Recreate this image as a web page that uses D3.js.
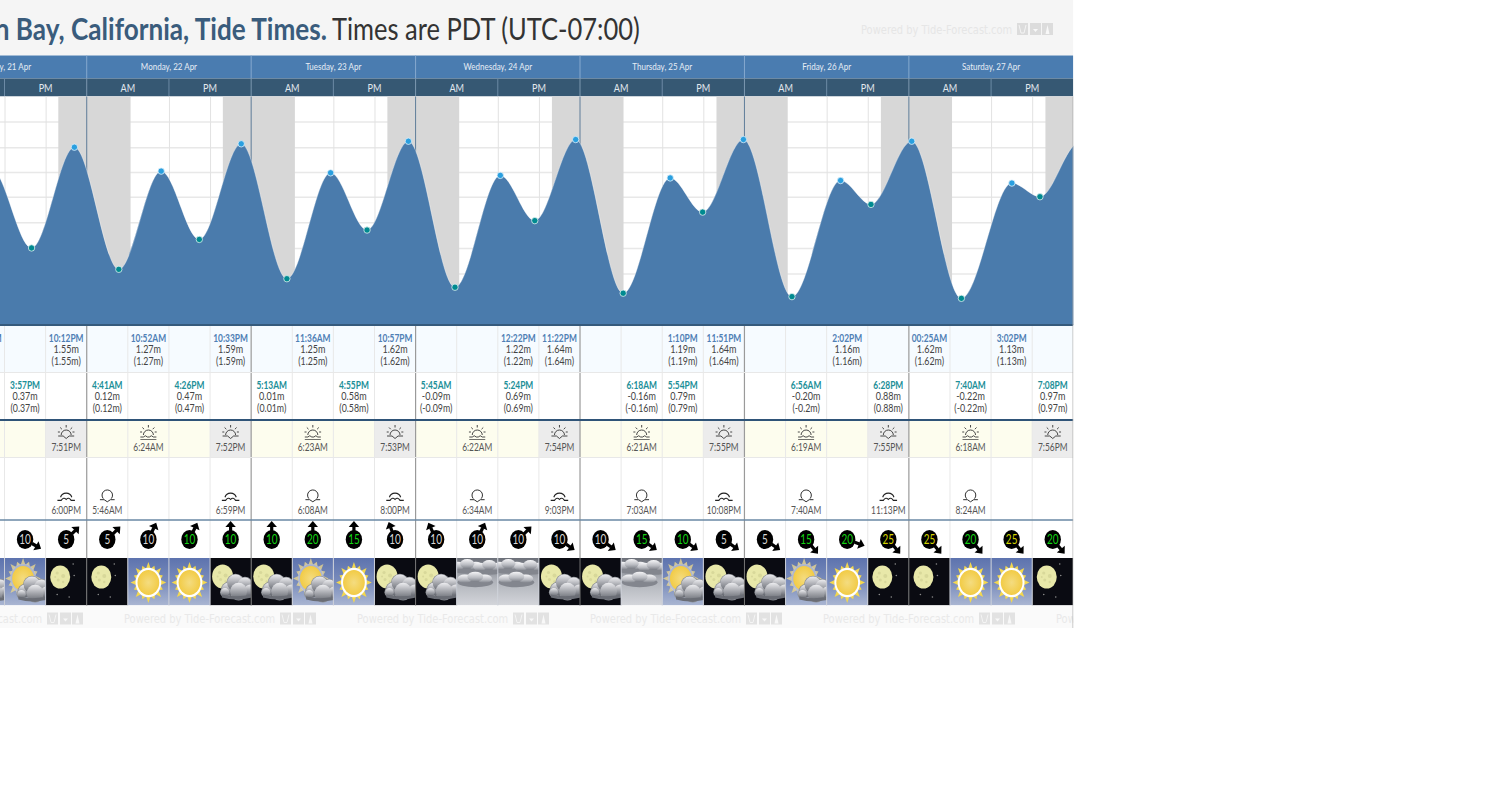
<!DOCTYPE html>
<html>
<head>
<meta charset="utf-8">
<title>Half Moon Bay, California, Tide Times</title>
<script src="https://cdn.jsdelivr.net/npm/d3@7/dist/d3.min.js"></script>
<style>
html,body{margin:0;padding:0;background:#fff;overflow:hidden}
svg{display:block}
text{font-family:Lato,"Open Sans",sans-serif}
</style>
</head>
<body>
<svg id="chart" width="1499" height="786"></svg>
<script>
// ---- Data (April 2024, local time) ----
const dayNames = ["Sunday, 21 Apr","Monday, 22 Apr","Tuesday, 23 Apr","Wednesday, 24 Apr","Thursday, 25 Apr","Friday, 26 Apr","Saturday, 27 Apr"];

const highDays    = [21,21,22,22,23,23,24,24,25,25,26,27,27,28];
const highTimes   = ["10:04AM","10:12PM","10:52AM","10:33PM","11:36AM","10:57PM","12:22PM","11:22PM","1:10PM","11:51PM","2:02PM","00:25AM","3:02PM","00:50AM"];
const highHeights = [1.30,1.55,1.27,1.59,1.25,1.62,1.22,1.64,1.19,1.64,1.16,1.62,1.13,1.60];

const lowDays    = [21,21,22,22,23,23,24,24,25,25,26,26,27,27,28];
const lowTimes   = ["4:05AM","3:57PM","4:41AM","4:26PM","5:13AM","4:55PM","5:45AM","5:24PM","6:18AM","5:54PM","6:56AM","6:28PM","7:40AM","7:08PM","8:20AM"];
const lowHeights = [0.22,0.37,0.12,0.47,0.01,0.58,-0.09,0.69,-0.16,0.79,-0.20,0.88,-0.22,0.97,-0.20];

const sunDays  = [21,21,22,22,23,23,24,24,25,25,26,26,27,27];
const sunTimes = ["6:25AM","7:51PM","6:24AM","7:52PM","6:23AM","7:53PM","6:22AM","7:54PM","6:21AM","7:55PM","6:19AM","7:55PM","6:18AM","7:56PM"];

const moonDays  = [21,22,22,23,23,24,24,25,25,26,26,27];
const moonTimes = ["6:00PM","5:46AM","6:59PM","6:08AM","8:00PM","6:34AM","9:03PM","7:03AM","10:08PM","7:40AM","11:13PM","8:24AM"];

// one entry per six-hour column, starting at noon on the 21st
const windSpeeds  = [10,5, 5,10,10,10, 10,20,15,10, 10,10,10,10, 10,15,10,5, 5,15,20,25, 25,20,25,20];
const windHeading = [120,45, 45,25,25,0, 0,0,0,-20, -25,25,45,125, 125,125,125,125, 125,140,110,140, 140,140,140,140];
const windTone    = ["w","w", "w","w","g","g", "g","g","g","w", "w","w","w","w", "w","g","g","w", "w","g","g","y", "y","g","y","g"];

// one entry per six-hour column, starting at 06:00 on the 21st
const skies = ["partlyDay","partlyDay","clearNight",
  "clearNight","clearDay","clearDay","partlyNight",
  "partlyNight","partlyDay","clearDay","partlyNight",
  "partlyNight","overcast","overcast","partlyNight",
  "partlyNight","overcast","partlyDay","partlyNight",
  "partlyNight","partlyDay","clearDay","clearNight",
  "clearNight","clearDay","clearDay","clearNight"];

const gridLevels = [1.85,1.55,1.26,0.97,0.67,0.37,0.07];

const titleHead = "Half Moon Bay, California, Tide Times.";
const titleTail = "Times are PDT (UTC-07:00)";
const creditText = "Powered by Tide-Forecast.com";

// ---- Layout ----
const C = {blue:"#4a7bac", dark:"#365873", headBlue:"#4a7cb0", high:"#4f80b5", low:"#1c8f98", ink:"#444", soft:"#555"};
const R = {head:55.5, day:78.5, half:96.5, plot:325, high:372.5, low:420, sun:457.5, moon:520, wind:558, sky:605.5, foot:628};
const left = -77.7, right = 1073.3;
const SQUEEZE = 0.8; // all lettering is set narrow

const parseStamp = d3.utcParse("%d %I:%M%p");
const stamp = (day, t) => {
  const clean = t.replace(/^00:/, "12:");
  const p = parseStamp(day + " " + clean);
  return new Date(Date.UTC(2024, 3, p.getUTCDate(), p.getUTCHours(), p.getUTCMinutes()));
};
const startDate = new Date(Date.UTC(2024,3,21)), endDate = new Date(Date.UTC(2024,3,28));

const x = d3.scaleUtc().domain([startDate,endDate]).range([left,right]);
const y = d3.scaleLinear().domain([-0.532,2.144]).range([R.plot,R.half]);
const colW = (right-left)/28;
const colIndex = d => Math.floor((d-startDate)/216e5);
const colMid = d => left + (colIndex(d)+0.5)*colW;
const visibleCell = d => colIndex(d)>=1 && colMid(d)<right;

const highs = highTimes.map((t,i)=>({date:stamp(highDays[i],t),label:t,h:highHeights[i]}));
const lows  = lowTimes.map((t,i)=>({date:stamp(lowDays[i],t),label:t,h:lowHeights[i]}));
const tide  = highs.concat(lows).sort((a,b)=>a.date-b.date);
const suns  = sunTimes.map((t,i)=>({date:stamp(sunDays[i],t),label:t}));
const moons = moonTimes.map((t,i)=>({date:stamp(moonDays[i],t),label:t}));

const svg = d3.select("#chart");
const defs = svg.append("defs");
defs.append("clipPath").attr("id","frame").append("rect").attr("x",0).attr("y",0).attr("width",right).attr("height",R.foot);

function vGrad(id, stops){
  const g = defs.append("linearGradient").attr("id",id).attr("x1",0).attr("y1",0).attr("x2",0).attr("y2",1);
  stops.forEach(s=>g.append("stop").attr("offset",s[0]).attr("stop-color",s[1]));
}
vGrad("skyDay",[[0,"#5d73ae"],[0.55,"#7d8fbd"],[1,"#aab6d2"]]);
vGrad("skyGrey",[[0,"#6c7079"],[0.45,"#adb0b7"],[1,"#d4d6db"]]);
vGrad("cloudFill",[[0,"#ececef"],[0.5,"#a4a6ac"],[1,"#63666e"]]);
vGrad("cloudPale",[[0,"#f6f6f8"],[0.6,"#b9bbc1"],[1,"#7d8088"]]);
const rg = defs.append("radialGradient").attr("id","sunDisc");
rg.append("stop").attr("offset",0).attr("stop-color","#f4dc80");
rg.append("stop").attr("offset",1).attr("stop-color","#f2cb45");

const root = svg.append("g").attr("clip-path","url(#frame)");

// narrow-set label placed at a point
function label(parent, px, py, str, opts){
  const o = Object.assign({size:10.5, fill:C.ink, anchor:"middle", weight:400, sx:SQUEEZE}, opts);
  return parent.append("text").attr("transform",`translate(${px},${py}) scale(${o.sx},1)`)
    .attr("text-anchor",o.anchor).attr("font-size",o.size).attr("font-weight",o.weight).attr("fill",o.fill).text(str);
}

// ---- Title band ----
root.append("rect").attr("width",right).attr("height",R.head).attr("fill","#f5f5f5");
label(root,327,40,titleHead,{size:30.5,weight:700,fill:"#3a5c7c",anchor:"end",sx:0.857});
label(root,332,40,titleTail,{size:30.5,fill:"#333",anchor:"start",sx:0.836});

// credit strip: small greyed mark after the text
function credit(g, x0, yc, textFill, boxFill){
  label(g,x0,yc+4.5,creditText,{size:12,fill:textFill,anchor:"start",sx:0.826}).style("font-family","'DejaVu Sans',sans-serif");
  [156,169,181].forEach((dx,i)=>{
    g.append("rect").attr("x",x0+dx).attr("y",yc-6).attr("width",11).attr("height",12).attr("fill",boxFill);
    g.append("path").attr("d", i===0 ? `M${x0+dx+2} ${yc-4}l2 8h3l2-8` : i===1 ? `M${x0+dx+3} ${yc}h5l-2.5 3z` : `M${x0+dx+3.5} ${yc+5}l2-9l2 9z`)
      .attr("fill", i===0 ? "none":"#f8f8f8").attr("stroke", i===0 ? "#f4f4f4":"none");
  });
}
credit(root.append("g"),861,29,"#e6e6e6","#dcdcdc");

// ---- Day and AM/PM header rows ----
const days = d3.utcDay.range(startDate,endDate);
root.append("rect").attr("y",R.head).attr("width",right).attr("height",R.day-R.head).attr("fill",C.headBlue);
root.append("rect").attr("y",R.day).attr("width",right).attr("height",R.half-R.day).attr("fill",C.dark);
days.forEach((d,i)=>{
  const x0 = x(d), x1 = x(d3.utcDay.offset(d,1)), xm = x(d3.utcHour.offset(d,12));
  label(root,(x0+x1)/2,70,dayNames[i],{size:10,fill:"#e6edf5"});
  label(root,(x0+xm)/2,91.5,"AM",{size:12,fill:"#e3e9ef",sx:0.76});
  label(root,(xm+x1)/2,91.5,"PM",{size:12,fill:"#e3e9ef",sx:0.76});
  root.append("line").attr("x1",x0).attr("x2",x0).attr("y1",R.head).attr("y2",R.day).attr("stroke","#86a9cf");
  root.append("line").attr("x1",x0).attr("x2",x0).attr("y1",R.day).attr("y2",R.half).attr("stroke","#7d98b0");
  root.append("line").attr("x1",xm).attr("x2",xm).attr("y1",R.day).attr("y2",R.half).attr("stroke","#6c8aa5");
});

// ---- Tide plot ----
const plot = root.append("g");
plot.append("rect").attr("y",R.half).attr("width",right).attr("height",R.plot-R.half).attr("fill","#fff");

const hGrid = d3.axisLeft(y).tickValues(gridLevels).tickSize(-right).tickFormat("");
const gh = plot.append("g").call(hGrid);
gh.select(".domain").remove();
gh.selectAll("line").attr("stroke","#e8e8e8").attr("stroke-width",1.5);

const vGridAxis = d3.axisBottom(x).ticks(d3.utcHour.every(6)).tickSize(R.half-R.plot).tickFormat("");
const gv = plot.append("g").attr("transform",`translate(0,${R.plot})`).call(vGridAxis);
gv.select(".domain").remove();
gv.selectAll("line").attr("stroke","#e2e2e2").attr("stroke-width",1);

// darkness between each sunset and the following sunrise
const nightEnds = suns.slice(0).concat([{date:endDate}]);
for(let i=1;i<suns.length;i+=2){
  plot.append("rect").attr("x",x(suns[i].date)).attr("y",R.half)
    .attr("width",x(nightEnds[i+1].date)-x(suns[i].date)).attr("height",R.plot-R.half)
    .attr("fill","#d7d7d7");
}
days.forEach(d=>{
  plot.append("line").attr("x1",x(d)).attr("x2",x(d)).attr("y1",R.half).attr("y2",R.plot).attr("stroke","#5f7d99");
});

const area = d3.area().x(d=>x(d.date)).y0(R.plot).y1(d=>y(d.h)).curve(d3.curveMonotoneX);
const crest = d3.line().x(d=>x(d.date)).y(d=>y(d.h)).curve(d3.curveMonotoneX);
plot.append("path").datum(tide).attr("d",area).attr("fill",C.blue);
plot.append("path").datum(tide).attr("d",crest).attr("fill","none").attr("stroke","#fff").attr("stroke-opacity",0.35).attr("stroke-width",1);

plot.selectAll("circle.hi").data(highs).join("circle").attr("class","hi")
  .attr("cx",d=>x(d.date)).attr("cy",d=>y(d.h)).attr("r",3.2).attr("fill","#2a9fdf").attr("stroke","#dff0fa").attr("stroke-width",0.8);
plot.selectAll("circle.lo").data(lows).join("circle").attr("class","lo")
  .attr("cx",d=>x(d.date)).attr("cy",d=>y(d.h)).attr("r",3.2).attr("fill","#008a90").attr("stroke","#dff0f0").attr("stroke-width",0.8);

// ---- Table rows ----
const table = root.append("g");
table.append("rect").attr("y",R.plot).attr("width",right).attr("height",R.high-R.plot).attr("fill","#f6fbff");
table.append("rect").attr("y",R.high).attr("width",right).attr("height",R.low-R.high).attr("fill","#fff");
table.append("rect").attr("y",R.low).attr("width",right).attr("height",R.sun-R.low).attr("fill","#fdfdee");
table.append("rect").attr("y",R.sun).attr("width",right).attr("height",R.moon-R.sun).attr("fill","#fff");
table.append("rect").attr("y",R.moon).attr("width",right).attr("height",R.wind-R.moon).attr("fill","#fff");

// sunset cells are shaded
suns.filter((d,i)=>i%2).forEach(d=>{
  const c = colIndex(d.date);
  table.append("rect").attr("x",left+c*colW).attr("y",R.low).attr("width",colW).attr("height",R.sun-R.low).attr("fill","#ececec");
});

// ---- Wind ----
const toneFill = {w:"#d8d8d8", g:"#13d313", y:"#d4d400"};
const windG = table.append("g");
windSpeeds.forEach((s,i)=>{
  const cx = left + (i+2+0.5)*colW, cy = 539.5;
  const g = windG.append("g").attr("transform",`translate(${cx},${cy})`);
  g.append("g").attr("transform",`rotate(${windHeading[i]})`)
    .call(a=>a.append("path").attr("d","M0 -8L0 -13").attr("stroke","#000").attr("stroke-width",3.2))
    .call(a=>a.append("path").attr("d","M-5.2 -12.5L5.2 -12.5L0 -18.5Z").attr("fill","#000"));
  g.append("ellipse").attr("rx",8.2).attr("ry",9.6).attr("fill","#000");
  label(g,0,4.4,s,{size:12.5,fill:toneFill[windTone[i]]});
});

// ---- Sky icons ----
function cloud(g, cx, cy, s){
  const blobs = [[-9,3,6],[-2,-3,8],[7,-1,7],[12,4,5.5],[1,5,8],[-12,6,4]];
  const c = g.append("g").attr("transform",`translate(${cx},${cy}) scale(${s})`);
  blobs.forEach(b=>c.append("circle").attr("cx",b[0]).attr("cy",b[1]).attr("r",b[2]+0.7).attr("fill","#8d9096"));
  blobs.forEach(b=>c.append("circle").attr("cx",b[0]).attr("cy",b[1]).attr("r",b[2]).attr("fill","url(#cloudFill)"));
  c.append("path").attr("d","M-15 11Q0 15 17 10L17 7Q0 12 -15 8Z").attr("fill","#6a6d75");
}
function flatCloud(g, cx, cy, sx, sy){
  const c = g.append("g").attr("transform",`translate(${cx},${cy}) scale(${sx},${sy})`);
  c.append("ellipse").attr("cx",0).attr("cy",5).attr("rx",17).attr("ry",6).attr("fill","#83868e");
  c.append("ellipse").attr("cx",-10).attr("cy",1).attr("rx",7).attr("ry",5).attr("fill","url(#cloudPale)");
  c.append("ellipse").attr("cx",9).attr("cy",1).attr("rx",7).attr("ry",5).attr("fill","url(#cloudPale)");
  c.append("ellipse").attr("cx",0).attr("cy",-1.5).attr("rx",7.5).attr("ry",6).attr("fill","url(#cloudPale)");
}
function moonDisc(g, cx, cy, rx, ry){
  g.append("ellipse").attr("cx",cx).attr("cy",cy).attr("rx",rx).attr("ry",ry).attr("fill","#e8e8a9");
  [[-3,-4,1.6],[3,-1,2],[-2,3,1.5],[3,5,1.2],[-5,0,1]].forEach(c=>
    g.append("circle").attr("cx",cx+c[0]).attr("cy",cy+c[1]).attr("r",c[2]).attr("fill","#d8d89a"));
}
function sunBurst(g, cx, cy, r, bright){
  const s = g.append("g").attr("transform",`translate(${cx},${cy}) scale(0.87,1)`);
  d3.range(16).forEach(i=>{
    const a = i/16*2*Math.PI, reach = i%2 ? r+5.5 : r+8;
    const at = (da,rad)=>[Math.sin(a+da)*rad,-Math.cos(a+da)*rad];
    s.append("path").attr("d",`M${at(-0.17,r+2)}L${at(0,reach)}L${at(0.17,r+2)}Z`)
      .attr("fill",bright?"#f4d84e":"#e8d68f").attr("opacity",bright?1:0.8);
  });
  s.append("circle").attr("r",r+2.3).attr("fill",bright?"#fff":"#d8dae0").attr("opacity",bright?1:0.6);
  s.append("circle").attr("r",r).attr("fill","url(#sunDisc)");
}
const skyG = table.append("g");
skies.forEach((kind,i)=>{
  const x0 = left + (i+1)*colW, cx = x0 + colW/2;
  const cid = "skyCell"+i;
  defs.append("clipPath").attr("id",cid).append("rect").attr("x",x0).attr("y",R.wind).attr("width",colW).attr("height",R.sky-R.wind);
  const g = skyG.append("g").attr("clip-path",`url(#${cid})`);
  const night = kind==="clearNight" || kind==="partlyNight";
  g.append("rect").attr("x",x0).attr("y",R.wind).attr("width",colW).attr("height",R.sky-R.wind)
    .attr("fill", night ? "#0a0b12" : kind==="overcast" ? "url(#skyGrey)" : "url(#skyDay)");
  if(kind==="clearNight"){
    moonDisc(g,cx-6,577,10,11.5);
    [[7,-13],[8,-1.5],[-9,17.5],[3,20]].forEach(s=>g.append("circle").attr("cx",cx+s[0]).attr("cy",577+s[1]).attr("r",0.8).attr("fill","#8a8a8a"));
  } else if(kind==="clearDay"){
    sunBurst(g,cx,582.5,12.5,true);
  } else if(kind==="partlyDay"){
    sunBurst(g,cx-2,578.5,12.5,false);
    cloud(g,cx+9,588,1.05);
  } else if(kind==="partlyNight"){
    moonDisc(g,cx-8,576.5,10.5,12);
    cloud(g,cx+7,586,1.05);
  } else {
    flatCloud(g,cx-10,565,0.95,0.8);
    flatCloud(g,cx+12,566,0.95,0.8);
    flatCloud(g,cx-2,578,1.05,0.85);
  }
});

// ---- Footer strip ----
root.append("rect").attr("y",R.sky).attr("width",right).attr("height",R.foot-R.sky).attr("fill","#fafafa");
[-109,124,357,590,823,1056].forEach(x0=>credit(root.append("g"),x0,618.5,"#e9e9e9","#e2e2e2"));

// ---- Cell dividers ----
const dividers = root.append("g");
d3.utcHour.range(startDate,endDate,6).forEach(d=>{
  const isDay = +d3.utcDay.floor(d)===+d;
  dividers.append("line").attr("x1",x(d)).attr("x2",x(d)).attr("y1",R.plot).attr("y2",R.wind)
    .attr("stroke",isDay?"#9a9a9a":"#e8e8e8").attr("stroke-width",isDay?1.2:1);
  dividers.append("line").attr("x1",x(d)).attr("x2",x(d)).attr("y1",R.wind).attr("y2",R.sky)
    .attr("stroke",isDay?"#6e6e6e":"#c9cdd6");
});
[R.high,R.sun].forEach(v=>dividers.append("line").attr("x2",right).attr("y1",v).attr("y2",v).attr("stroke","#e8e8e8"));
dividers.append("line").attr("x2",right).attr("y1",R.plot).attr("y2",R.plot).attr("stroke","#355a7c").attr("stroke-width",2);
dividers.append("line").attr("x2",right).attr("y1",R.low).attr("y2",R.low).attr("stroke","#2f5478").attr("stroke-width",2);
dividers.append("line").attr("x2",right).attr("y1",R.moon).attr("y2",R.moon).attr("stroke","#6a88a4").attr("stroke-width",1.3);
dividers.append("line").attr("x1",right-0.2).attr("x2",right-0.2).attr("y1",R.half).attr("y2",R.foot).attr("stroke","#a8a8a8");

// ---- Cell text ----
function tideCells(rows, colour, yTime, yVal, yParen){
  const g = root.append("g");
  rows.filter(d=>visibleCell(d.date)).forEach(d=>{
    const xm = colMid(d.date);
    label(g,xm,yTime,d.label,{weight:700,fill:colour,sx:0.8});
    label(g,xm,yVal,d.h.toFixed(2)+"m",{sx:0.86});
    label(g,xm,yParen,"("+(+d.h)+"m)",{sx:0.84});
  });
}
tideCells(highs,C.high,342,353,364.5);
tideCells(lows,C.low,389,400,411.5);

suns.filter(d=>visibleCell(d.date)).forEach(d=>{
  const pm = d.date.getUTCHours()>=12;
  label(root,colMid(d.date),451,d.label,{fill:C.soft});
  const g = root.append("g").attr("transform",`translate(${colMid(d.date)},433)`).attr("fill","none").attr("stroke","#333").attr("stroke-width",0.9);
  g.append("path").attr("d","M-5 2A5 5 0 0 1 5 2");
  g.append("path").attr("d","M0 -8V-5.5M-6 -5.5L-4.3 -3.8M6 -5.5L4.3 -3.8M-8.3 -1H-6.3M8.3 -1H6.3");
  g.append("path").attr("d", pm ? "M-8 3H-3L0 5.5L3 3H8" : "M-8 4H-5Q-3 1.5 -1 4H1Q3 1.5 5 4H8");
  if(!pm) g.append("path").attr("d","M-8 6.5H8").attr("stroke-width",0.7);
});
moons.filter(d=>visibleCell(d.date)).forEach(d=>{
  const pm = d.date.getUTCHours()>=12;
  label(root,colMid(d.date),514,d.label,{fill:C.soft});
  const g = root.append("g").attr("transform",`translate(${colMid(d.date)},496) scale(${pm?1.25:1.05})`).attr("fill","none").attr("stroke","#222").attr("stroke-width",0.9);
  g.append("path").attr("d", pm ? "M-4.5 1A4.7 4.7 0 0 1 4.5 1" : "M-3.8 2.5A5 5 0 1 1 3.8 2.5");
  g.append("path").attr("d", pm ? "M-7 3.5H-4Q-2 0.5 0 2.8Q2 0.5 4 3.5H7" : "M-7 3.5H-3L0 5.5L3 3.5H7");
});
</script>
</body>
</html>
